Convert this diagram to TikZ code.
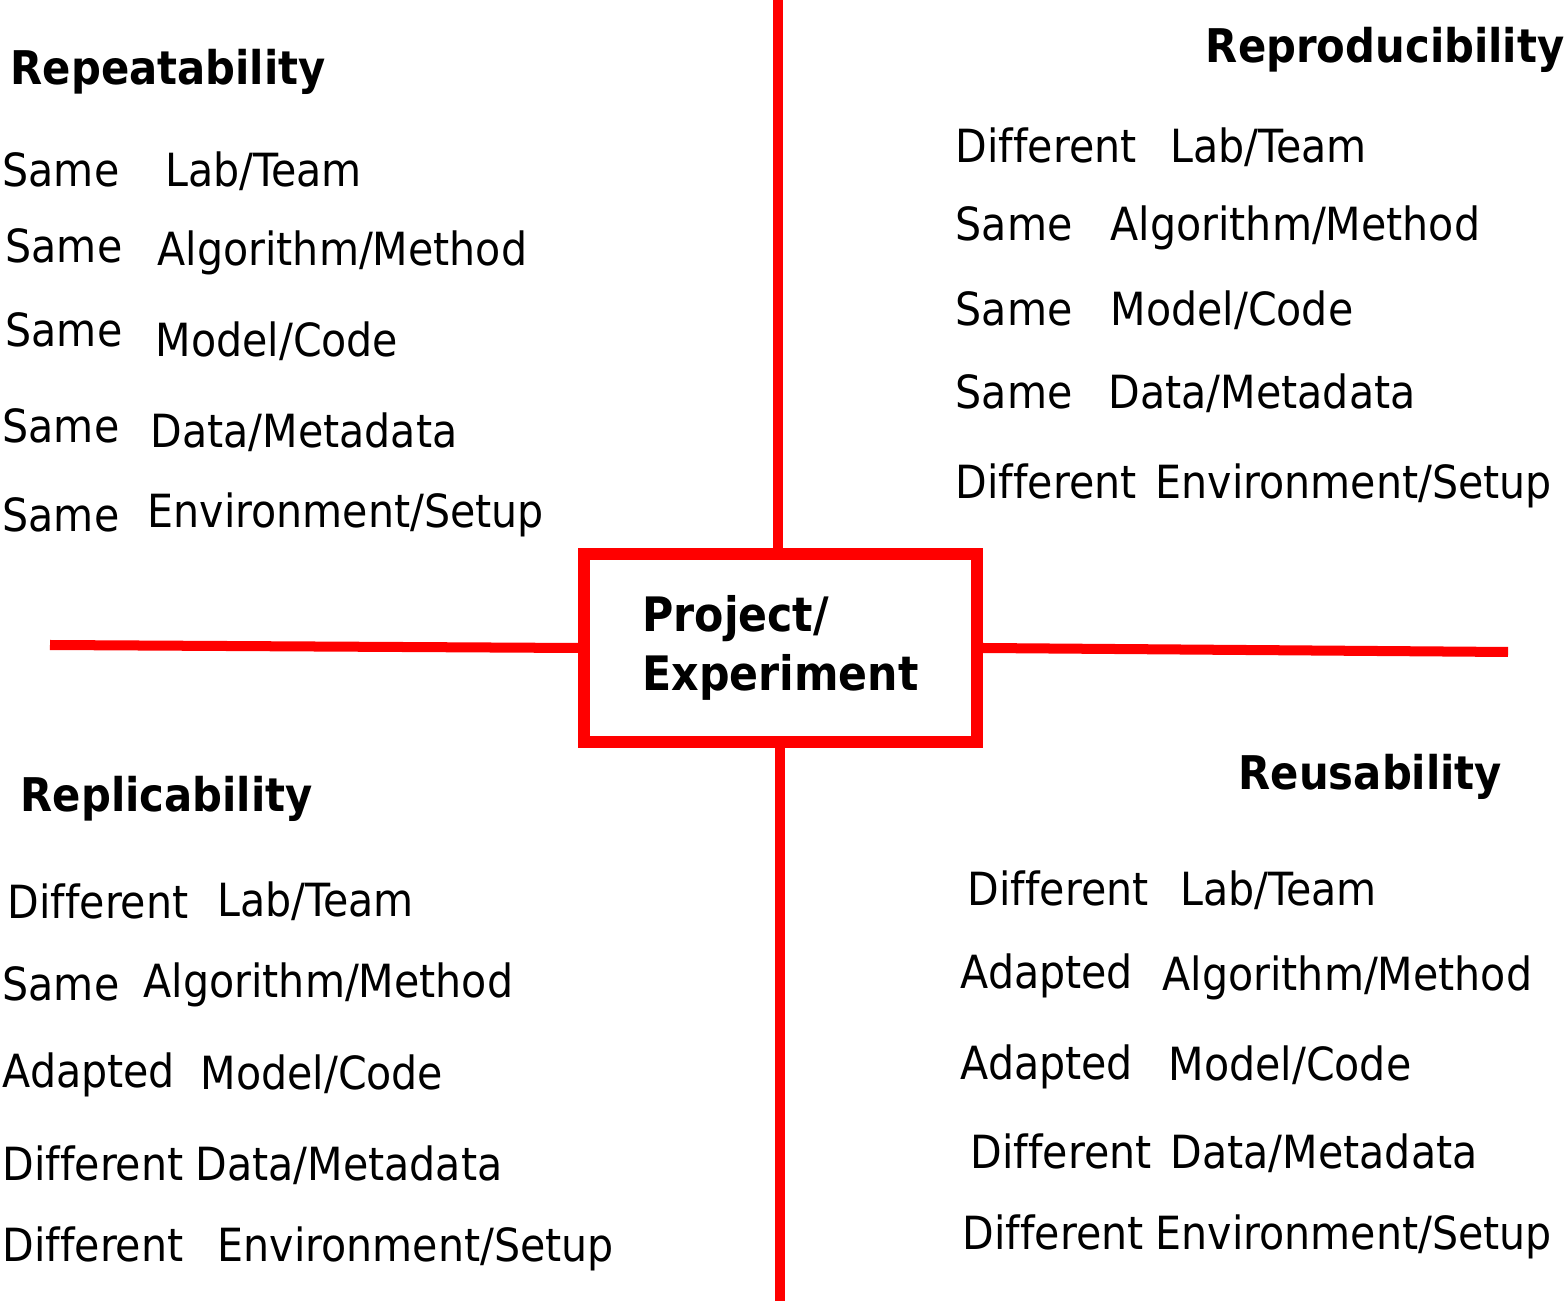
\documentclass[tikz,border=0pt]{standalone}
\usepackage{fontspec}
\setmainfont{DejaVu Sans Condensed}[Ligatures=NoCommon]
\newfontfamily\hdrfamily{DejaVu Sans Condensed Bold}[Ligatures=NoCommon]
\newcommand{\txtfont}{\fontsize{13}{15}\selectfont}
\newcommand{\hdrfont}{\hdrfamily\fontsize{13.2}{16.5}\selectfont}
\newcommand{\boxfont}{\hdrfamily\fontsize{13.5}{17}\selectfont}
\tikzset{
  word/.style={anchor=base west, inner sep=0pt, font=\txtfont},
  head/.style={anchor=base west, inner sep=0pt, font=\hdrfont},
  redline/.style={draw=red, line width=0.1cm},
}
\begin{document}
\begin{tikzpicture}[x=0.01cm, y=-0.01cm]
  \useasboundingbox (0,0) rectangle (1567,1301);
  \node[draw=red, line width=0.12cm, minimum width=3.93cm, minimum height=1.88cm, align=left, font=\boxfont] (proj) at (780.5,648) {Project/\\Experiment};
  \coordinate (topEnd) at (778,0);
  \coordinate (botEnd) at (780,1301);
  \coordinate (leftEnd) at (50,645);
  \coordinate (rightEnd) at (1508,652);
  \draw[redline] (proj.north -| topEnd) -- (topEnd);
  \draw[redline] (proj.south -| botEnd) -- (botEnd);
  \draw[redline] (proj.west) -- (leftEnd);
  \draw[redline] (proj.east) -- (rightEnd);

  % Repeatability
  \node[head] (rpt) at (10,85) {Repeatability};
  \node[word] (rptQ1) at (2,187) {Same};
  \node[word] (rptV1) at (165,187) {Lab/Team};
  \node[word] (rptQ2) at (5,263) {Same};
  \node[word] (rptV2) at (157,266) {Algorithm/Method};
  \node[word] (rptQ3) at (5,347) {Same};
  \node[word] (rptV3) at (155,357) {Model/Code};
  \node[word] (rptQ4) at (2,443) {Same};
  \node[word] (rptV4) at (150,448) {Data/Metadata};
  \node[word] (rptQ5) at (2,532) {Same};
  \node[word] (rptV5) at (147,528) {Environment/Setup};

  % Reproducibility
  \node[head, anchor=base east] (rpr) at (1565,63) {Reproducibility};
  \node[word] (rprQ1) at (955,163) {Different};
  \node[word] (rprV1) at (1170,163) {Lab/Team};
  \node[word] (rprQ2) at (955,241) {Same};
  \node[word] (rprV2) at (1110,241) {Algorithm/Method};
  \node[word] (rprQ3) at (955,326) {Same};
  \node[word] (rprV3) at (1110,326) {Model/Code};
  \node[word] (rprQ4) at (955,409) {Same};
  \node[word] (rprV4) at (1108,409) {Data/Metadata};
  \node[word] (rprQ5) at (955,499) {Different};
  \node[word] (rprV5) at (1155,499) {Environment/Setup};

  % Replicability
  \node[head] (rpl) at (20,812) {Replicability};
  \node[word] (rplQ1) at (7,919) {Different};
  \node[word] (rplV1) at (217,916) {Lab/Team};
  \node[word] (rplQ2) at (2,1000) {Same};
  \node[word] (rplV2) at (143,997) {Algorithm/Method};
  \node[word] (rplQ3) at (2,1087) {Adapted};
  \node[word] (rplV3) at (200,1089) {Model/Code};
  \node[word] (rplQ4) at (2,1180) {Different};
  \node[word] (rplV4) at (195,1180) {Data/Metadata};
  \node[word] (rplQ5) at (2,1261) {Different};
  \node[word] (rplV5) at (217,1261) {Environment/Setup};

  % Reusability
  \node[head] (rus) at (1238,790) {Reusability};
  \node[word] (rusQ1) at (967,905) {Different};
  \node[word] (rusV1) at (1180,905) {Lab/Team};
  \node[word] (rusQ2) at (960,988) {Adapted};
  \node[word] (rusV2) at (1162,990) {Algorithm/Method};
  \node[word] (rusQ3) at (960,1079) {Adapted};
  \node[word] (rusV3) at (1168,1080) {Model/Code};
  \node[word] (rusQ4) at (970,1168) {Different};
  \node[word] (rusV4) at (1170,1168) {Data/Metadata};
  \node[word] (rusQ5) at (962,1249) {Different};
  \node[word] (rusV5) at (1155,1249) {Environment/Setup};
\end{tikzpicture}
\end{document}
